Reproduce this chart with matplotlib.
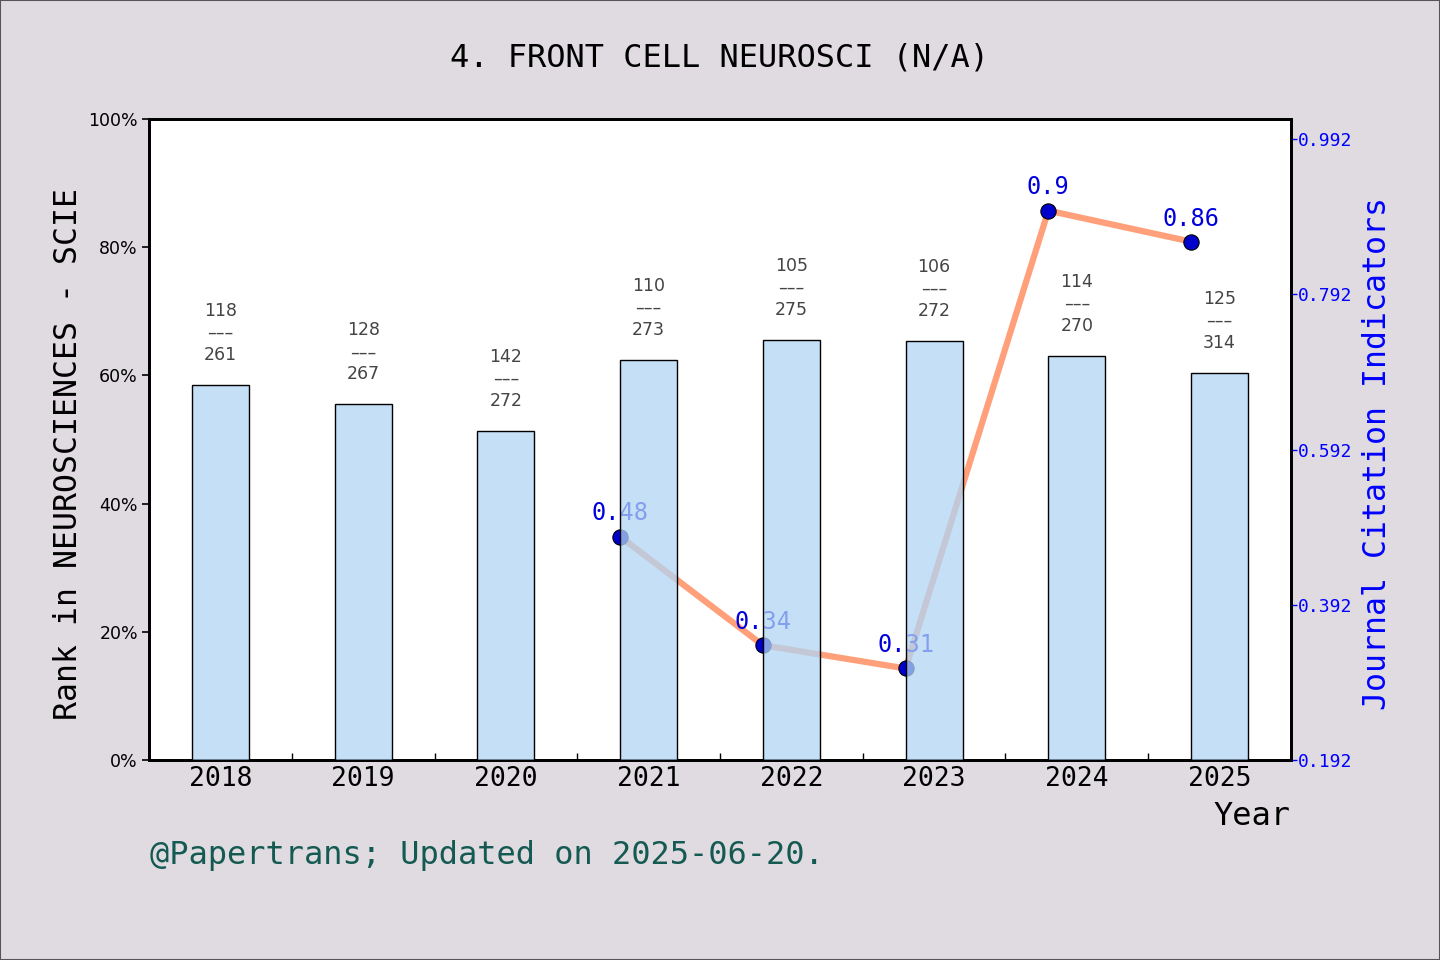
import matplotlib
matplotlib.use('Agg')
import matplotlib.pyplot as plt
import numpy as np

# data
years = ['2018', '2019', '2020', '2021', '2022', '2023', '2024', '2025']
rank_pct = [0.585, 0.555, 0.513, 0.624, 0.655, 0.654, 0.630, 0.604]
rank_num = [118, 128, 142, 110, 105, 106, 114, 125]
rank_total = [261, 267, 272, 273, 275, 272, 270, 314]
jci = [np.nan, np.nan, np.nan, 0.48, 0.34, 0.31, 0.9, 0.86]
jci_ticks = [0.192, 0.392, 0.592, 0.792, 0.992]

mono = 'DejaVu Sans Mono'
bg = '#dfdbe0'
bar_w = 0.4

fig = plt.figure(figsize=(14.4, 9.6), dpi=100, facecolor=bg)
fig.patches.append(plt.Rectangle((0, 0), 1, 1, transform=fig.transFigure,
                                 fill=False, edgecolor='#555555', lw=1.5))
ax1 = fig.add_axes([0.1035, 0.2083, 0.793, 0.6677])
ax2 = ax1.twinx()

# line sits under the semi-transparent bars
ax2.set_zorder(ax1.get_zorder() - 1)
ax1.patch.set_visible(False)
ax2.patch.set_visible(True)
ax2.patch.set_facecolor('white')

x = np.arange(len(years))
xl = x - bar_w / 2  # line points sit on the bars' left edges

# Journal Citation Indicators line
ax2.plot(xl, jci, color='#ffa07a', lw=4.5, zorder=2)
ax2.plot(xl, jci, 'o', color='#0000cc', markeredgecolor='black', markeredgewidth=0.8,
         markersize=11, zorder=3)
for xi, v in zip(xl, jci):
    if not np.isnan(v):
        ax2.annotate(f'{v:g}', (xi, v), xytext=(0, 8), textcoords='offset points',
                     ha='center', va='bottom', color='#0000dd', fontsize=17, family=mono)
ax2.set_ylim(0.192, 1.018)
ax2.set_yticks(jci_ticks)
ax2.set_yticklabels([f'{t:.3f}' for t in jci_ticks], family=mono, fontsize=13, color='blue')
ax2.tick_params(axis='y', colors='blue', direction='out', length=4, width=1, pad=1)
ax2.set_ylabel('Journal Citation Indicators', family=mono, fontsize=22.7, color='blue')
ax2.yaxis.set_label_coords(1.062, 0.478)

# rank bars
ax1.bar(x, rank_pct, width=bar_w, facecolor=(0.694, 0.835, 0.957, 0.75),
        edgecolor='black', lw=1, zorder=3)
for xi, p, n, t in zip(x, rank_pct, rank_num, rank_total):
    ax1.annotate(f'{n}\n\u2013\u2013\u2013\n{t}', (xi, p), xytext=(0, 15), textcoords='offset points',
                 ha='center', va='bottom', color='#444444', fontsize=12.5, linespacing=1.3)
ax1.set_xlim(-0.5, 7.5)
ax1.set_ylim(0, 1)
ax1.set_yticks(np.arange(0, 1.01, 0.2))
ax1.set_yticklabels([f'{int(round(t * 100))}%' for t in np.arange(0, 1.01, 0.2)], fontsize=12.5)
ax1.tick_params(axis='y', direction='out', length=5, width=1.2, pad=3)
ax1.set_xticks(x)
ax1.set_xticklabels(years, family=mono, fontsize=19)
ax1.tick_params(axis='x', length=0, pad=4)
ax1.set_xticks(x[:-1] + 0.5, minor=True)
ax1.tick_params(axis='x', which='minor', direction='in', length=5, width=1)
ax1.set_ylabel('Rank in NEUROSCIENCES - SCIE', family=mono, fontsize=22.7)
ax1.yaxis.set_label_coords(-0.057, 0.478)

for a in (ax1, ax2):
    for s in a.spines.values():
        s.set_linewidth(2)

fig.text(0.5, 0.94, '4. FRONT CELL NEUROSCI (N/A)', ha='center', va='center',
         family=mono, fontsize=23)
fig.text(0.896, 0.149, 'Year', ha='right', va='center', family=mono, fontsize=23)
fig.text(0.104, 0.109, '@Papertrans; Updated on 2025-06-20.', ha='left', va='center',
         family=mono, fontsize=23, color='#155a52')

fig.savefig('out.png', dpi=100, facecolor=bg)
